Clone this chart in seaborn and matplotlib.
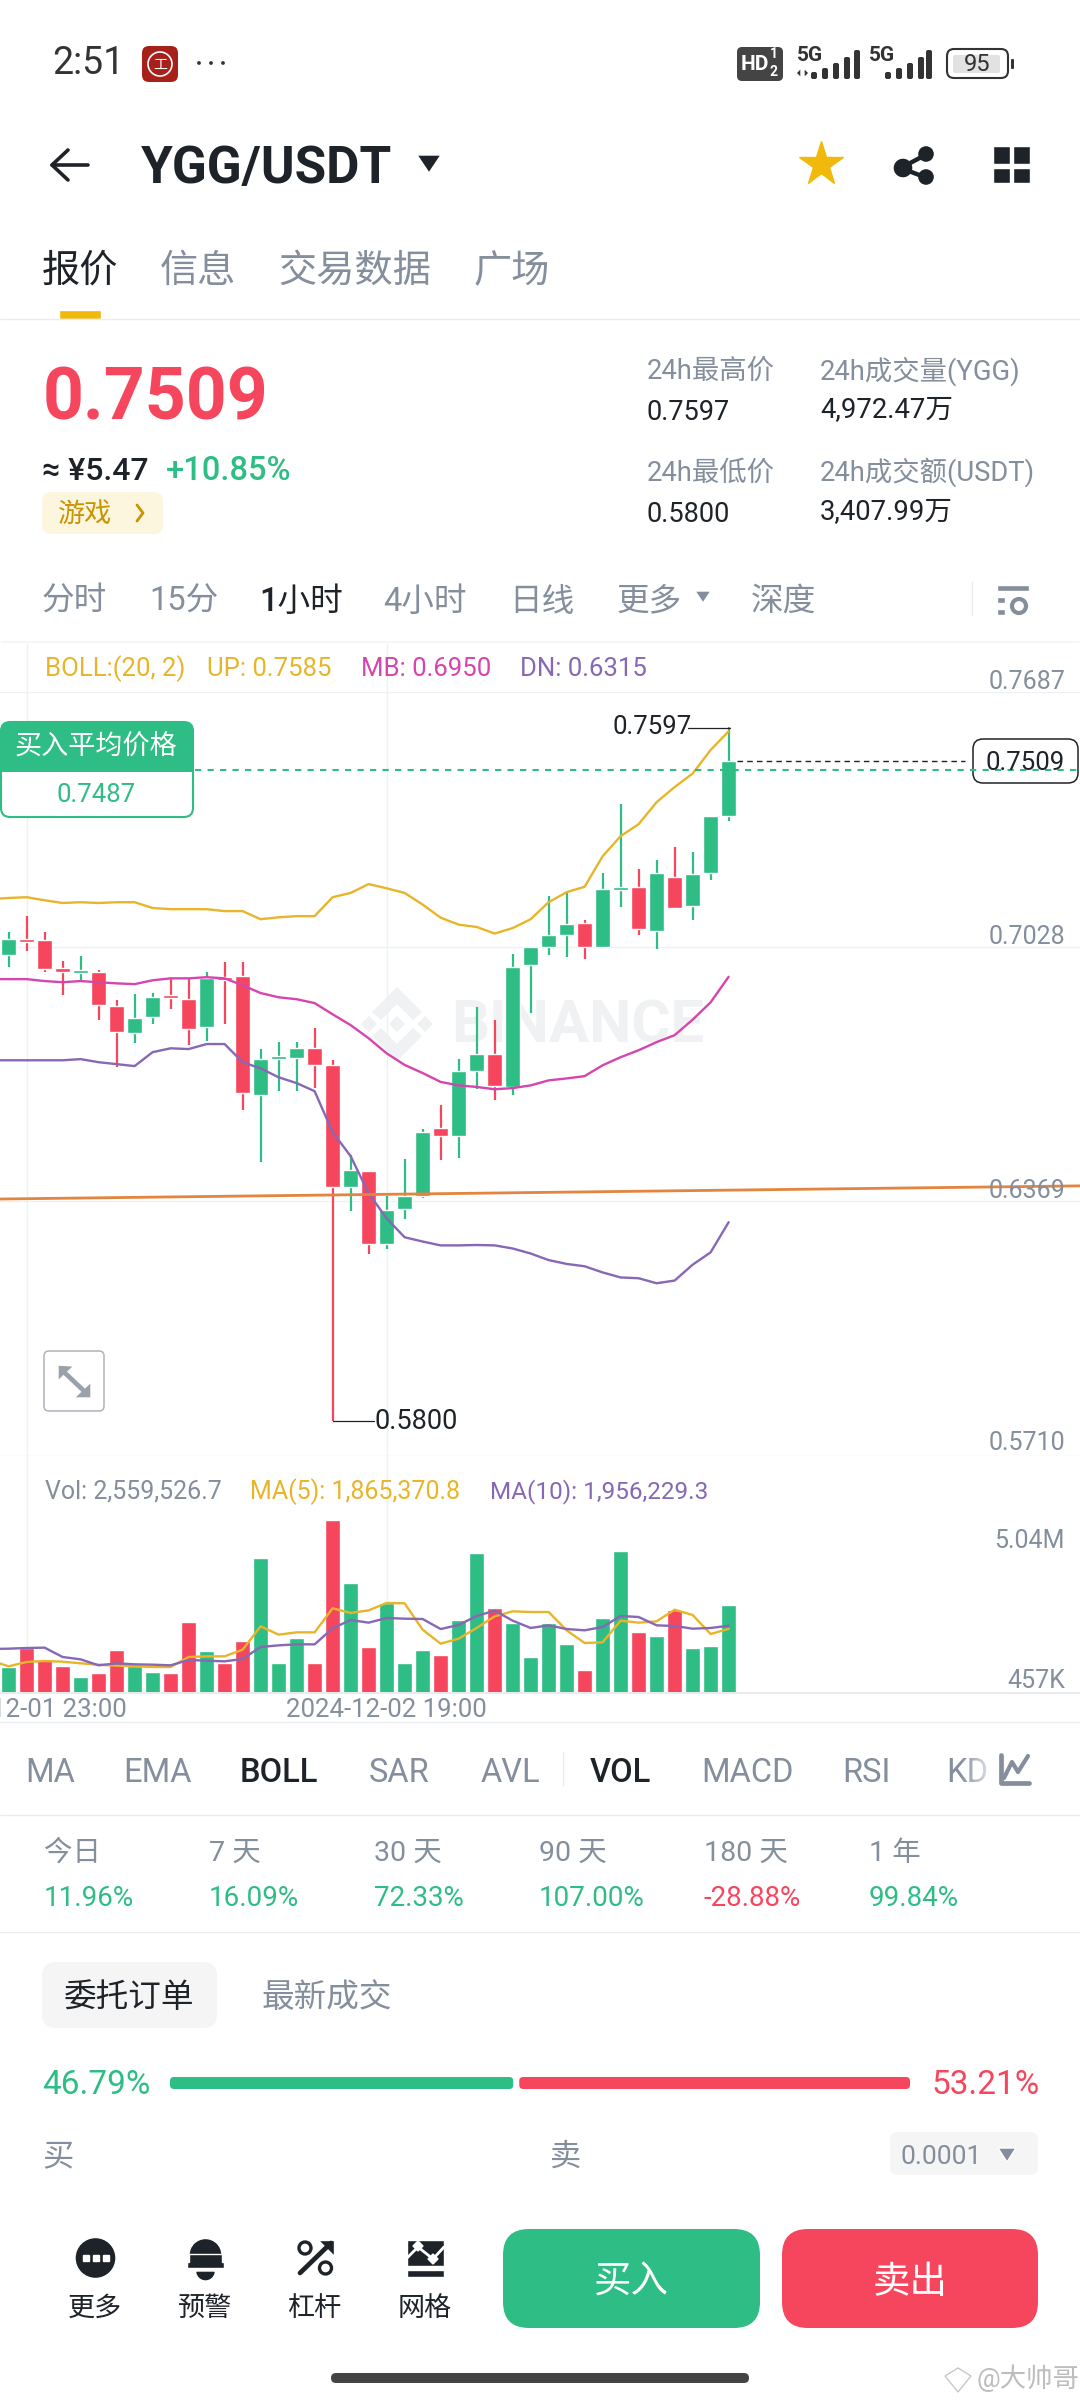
import numpy as np
import pandas as pd
import matplotlib
matplotlib.use("Agg")
import matplotlib.pyplot as plt
import seaborn as sns
from matplotlib.patches import FancyBboxPatch, Polygon, Circle, Rectangle, Wedge

# --- CANDLE DATA (1h, YGG/USDT) ---
opens = [.7006, .7047, .7045, .6972, .6959, .6962, .6874, .6804, .6845, .6902, .6892, .6820, .6949, .6951,
         .6644, .6737, .6739, .6765, .6721, .6405, .6447, .6258, .6348, .6382, .6558, .6537, .6706, .6750,
         .6664, .6981, .7027, .7058, .7089, .7027, .7174, .7183, .7068, .7208, .7132, .7218, .7366]
highs = [.7066, .7107, .7066, .6990, .7003, .6967, .6890, .6905, .6908, .6946, .6946, .6962, .6988, .6988,
         .6763, .6781, .6781, .6817, .6734, .6488, .6447, .6384, .6478, .6555, .6618, .6737, .6871, .6838,
         .7009, .7028, .7159, .7167, .7097, .7218, .7396, .7229, .7252, .7286, .7273, .7367, .7597]
lows = [.6975, .7016, .6962, .6902, .6936, .6838, .6716, .6778, .6827, .6866, .6773, .6783, .6827, .6605,
        .6470, .6654, .6654, .6662, .5800, .6343, .6232, .6245, .6322, .6377, .6475, .6480, .6659, .6631,
        .6644, .6856, .7006, .7001, .6996, .7024, .7130, .7058, .7022, .7125, .7098, .7201, .7353]
closes = [.7047, .7040, .6970, .6962, .6967, .6877, .6807, .6843, .6897, .6895, .6814, .6946, .6943, .6649,
          .6737, .6745, .6765, .6721, .6405, .6449, .6258, .6346, .6382, .6548, .6537, .6706, .6750, .6667,
          .6975, .7027, .7058, .7086, .7027, .7177, .7182, .7073, .7218, .7128, .7216, .7366, .7509]

# bollinger lines start one candle earlier, off the left edge
boll_up = [.7151, .7154, .7156, .7148, .7141, .7143, .7141, .7143, .7143, .7128, .7125, .7125, .7125, .7120,
           .7120, .7099, .7104, .7107, .7107, .7156, .7167, .7190, .7179, .7167, .7137, .7103, .7085, .7079,
           .7062, .7076, .7099, .7143, .7169, .7183, .7262, .7314, .7345, .7402, .7441, .7476, .7537, .7585]
boll_mb = [.6944, .6944, .6944, .6939, .6936, .6939, .6936, .6933, .6931, .6941, .6946, .6946, .6949, .6946,
           .6928, .6908, .6897, .6892, .6882, .6853, .6825, .6791, .6752, .6722, .6701, .6678, .6669, .6665,
           .6659, .6662, .6669, .6682, .6687, .6693, .6721, .6742, .6760, .6781, .6799, .6839, .6884, .6950]
boll_dn = [.6734, .6734, .6734, .6734, .6734, .6737, .6729, .6724, .6719, .6755, .6765, .6763, .6776, .6776,
           .6729, .6713, .6690, .6675, .6654, .6548, .6486, .6390, .6325, .6276, .6265, .6255, .6255, .6256,
           .6255, .6247, .6234, .6217, .6207, .6201, .6185, .6172, .6170, .6157, .6164, .6205, .6237, .6315]

# orange trend line, ends at the pane edges
trend_x = [-0.48, 59.52]
trend_y = [.6375, .6409]

# --- VOLUME DATA (millions) ---
volume = [.756, 1.309, .969, .785, .465, .590, 1.251, .777, .611, .573, 2.056, 1.230, .873, 1.521,
          3.926, .873, 1.591, .864, 5.040, 3.199, 1.329, 2.618, .873, 1.242, 1.105, 2.132, 4.072, 2.481,
          2.036, 1.038, 2.045, 1.434, .669, 2.190, 4.130, 1.774, 1.649, 2.423, 1.300, 1.358, 2.560]
vol_ma5 = [.950, .776, .902, .931, .911, .863, .824, .795, .776, .756, .756, 1.047, 1.066, 1.066,
           1.260, 1.939, 1.697, 1.764, 1.764, 2.463, 2.327, 2.404, 2.618, 2.608, 1.842, 1.435, 1.580, 1.891,
           2.230, 2.375, 2.356, 2.356, 1.823, 1.454, 1.474, 2.104, 2.046, 2.084, 2.424, 2.269, 1.716, 1.865]
vol_ma10 = [1.280, 1.289, 1.309, 1.319, 1.047, .979, .805, .863, .834, .824, .805, .960, .940, .921,
            .989, 1.338, 1.386, 1.415, 1.415, 1.881, 2.123, 2.046, 2.181, 2.162, 2.152, 1.861, 1.978, 2.240,
            2.395, 2.104, 1.891, 1.968, 1.861, 1.823, 1.920, 2.240, 2.210, 1.968, 1.949, 1.871, 1.891, 1.956]

price_ticks = [.7687, .7028, .6369, .5710]
tick_candles = [1, 21]
tick_dates = ["2024-12-01 23:00", "2024-12-02 19:00"]

# --- SCREEN TEXT ---
tabs = ["报价", "信息", "交易数据", "广场"]
tab_x = [42, 160, 278, 474]
frames = ["分时", "15分", "1小时", "4小时", "日线", "更多", "深度"]
frame_x = [42, 149, 259, 383, 509, 616, 751]
indicators = ["MA", "EMA", "BOLL", "SAR", "AVL", "VOL", "MACD", "RSI", "KD"]
indicator_x = [25, 123, 240, 369, 481, 590, 701, 842, 946]
periods = ["今日", "7 天", "30 天", "90 天", "180 天", "1 年"]
period_changes = ["11.96%", "16.09%", "72.33%", "107.00%", "-28.88%", "99.84%"]
period_x = [44, 209, 374, 539, 704, 869]
bid_share = 46.79
ask_share = 53.21
tools = ["更多", "预警", "杠杆", "网格"]
tool_x = [95, 205, 315, 425]

GREEN = "#2EBD85"
RED = "#F6465D"
YELLOW = "#E8B52A"
MAGENTA = "#D645AE"
PURPLE = "#8668B4"
ORANGE = "#E3843F"
GRAY = "#848E9C"
DARK = "#1E2329"
GRID = "#EEF0F3"

sns.set_theme(style="white")
plt.rcParams["font.family"] = ["Roboto", "Noto Sans CJK SC", "DejaVu Sans"]

df = pd.DataFrame({"open": opens, "high": highs, "low": lows, "close": closes, "volume": volume})
df["idx"] = np.arange(len(df))
df["up"] = df["close"] >= df["open"]
df["dir"] = np.where(df["up"], "up", "down")
df["color"] = np.where(df["up"], GREEN, RED)
line_idx = np.arange(-1, len(df))

fig = plt.figure(figsize=(10.8, 24), dpi=100, facecolor="white")

def full_ax(z):
    a = fig.add_axes([0, 0, 1, 1], zorder=z)
    a.set_xlim(0, 1080)
    a.set_ylim(2400, 0)
    a.axis("off")
    return a

def pane(top, bottom):
    a = fig.add_axes([0, 1 - bottom / 2400, 1, (bottom - top) / 2400], zorder=1)
    a.patch.set_alpha(0)
    return a

back = full_ax(0)
ui = full_ax(2)
ax = pane(692, 1456)
ax_vol = pane(1456, 1693)

def txt(a, x, y, s, size, color=DARK, ha="left", weight="normal", **kw):
    # va center sits a bit high for these fonts
    a.text(x, y + 4.5, s, fontsize=size, color=color, ha=ha, va="center", fontweight=weight, **kw)

def box(a, x0, y0, x1, y1, r, fc, ec="none", lw=0, **kw):
    a.add_patch(FancyBboxPatch((x0 + r, y0 + r), x1 - x0 - 2 * r, y1 - y0 - 2 * r,
                               boxstyle=f"round,pad={r},rounding_size={r}", fc=fc, ec=ec, lw=lw, **kw))

# --- WATERMARK UNDER CHART ---
wm = "#EFF1F2"
txt(back, 451, 1022, "BINANCE", 43, wm, weight="bold")
for cx, cy, r in [(397, 1024, 9), (369, 1024, 9), (425, 1024, 9)]:
    back.add_patch(Polygon([(cx - r, cy), (cx, cy - r), (cx + r, cy), (cx, cy + r)], fc=wm))
back.add_patch(Polygon([(397, 986), (423, 1012), (413, 1021), (397, 1005), (381, 1021), (371, 1012)], fc=wm))
back.add_patch(Polygon([(397, 1062), (423, 1036), (413, 1027), (397, 1043), (381, 1027), (371, 1036)], fc=wm))
# grid lines go on up through the legend strip
back.plot([26.6, 26.6], [644, 692], color=GRID, lw=1)
back.plot([386.6, 386.6], [644, 692], color=GRID, lw=1)

# --- PRICE PANE ---
ax.vlines(df["idx"], df["low"], df["high"], colors=df["color"], lw=1.6, zorder=2)
ax.bar(df["idx"], (df["close"] - df["open"]).abs(), bottom=df[["open", "close"]].min(axis=1),
       width=0.84, color=df["color"], zorder=3)
sns.lineplot(x=line_idx, y=boll_up, color=YELLOW, linewidth=1.7, ax=ax, zorder=4)
sns.lineplot(x=line_idx, y=boll_mb, color=MAGENTA, linewidth=1.7, ax=ax, zorder=4)
sns.lineplot(x=line_idx, y=boll_dn, color=PURPLE, linewidth=1.7, ax=ax, zorder=4)
sns.lineplot(x=trend_x, y=trend_y, color=ORANGE, linewidth=2, ax=ax, zorder=5)
ax.set_xlim(-0.478, 59.52)
ax.set_ylim(.5710, .7687)
ax.set_yticks(price_ticks)
ax.set_xticks(tick_candles)
ax.grid(True, color=GRID, lw=1)
ax.tick_params(left=False, bottom=False, labelleft=False, labelbottom=False)
sns.despine(ax=ax, left=True, bottom=True)
ax.set_axisbelow(True)

# --- VOLUME PANE ---
sns.barplot(data=df, x="idx", y="volume", hue="dir", palette={"up": GREEN, "down": RED}, native_scale=True,
            dodge=False, width=0.85, saturation=1, legend=False, errorbar=None, ax=ax_vol, zorder=3)
sns.lineplot(x=line_idx, y=vol_ma5, color=YELLOW, linewidth=1.7, ax=ax_vol, zorder=4)
sns.lineplot(x=line_idx, y=vol_ma10, color=PURPLE, linewidth=1.7, ax=ax_vol, zorder=5)
ax_vol.set_xlim(-0.478, 59.52)
ax_vol.set_ylim(0, 6.893)
ax_vol.set_yticks([])
ax_vol.set_xticks(tick_candles)
ax_vol.grid(True, axis="x", color=GRID, lw=1)
ax_vol.set_axisbelow(True)
ax_vol.set_xlabel("")
ax_vol.set_ylabel("")
ax_vol.tick_params(left=False, bottom=False, labelleft=False, labelbottom=False)
sns.despine(ax=ax_vol, left=True, bottom=True)

# date labels, the first one runs off the left edge as on the phone
for i, label in zip(tick_candles, tick_dates):
    ax_vol.annotate(label, xy=(i, 0), xytext=(0, -17 * 0.72), textcoords="offset points", ha="center",
                    va="center", fontsize=18.5, color=GRAY, annotation_clip=False)

# --- CHART OVERLAYS ---
for y, label in zip([677.5, 932.5, 1187, 1438], price_ticks):
    txt(ui, 1065, y, f"{label:.4f}", 18, GRAY, ha="right")
txt(ui, 1065, 1536, "5.04M", 18, GRAY, ha="right")
txt(ui, 1065, 1676, "457K", 18, GRAY, ha="right")

ui.add_patch(Rectangle((0, 640), 1080, 3, fc="#F5F5F5"))
ui.plot([0, 1080], [1693, 1693], color="#E9EBEE", lw=1.4)
txt(ui, 45, 664, "BOLL:(20, 2)", 18.5, YELLOW)
txt(ui, 207, 664, "UP: 0.7585", 18.5, YELLOW)
txt(ui, 361, 664, "MB: 0.6950", 18.5, MAGENTA)
txt(ui, 520, 664, "DN: 0.6315", 18.5, PURPLE)
txt(ui, 45, 1487, "Vol: 2,559,526.7", 18, GRAY)
txt(ui, 250, 1487, "MA(5): 1,865,370.8", 18, YELLOW)
txt(ui, 490, 1487, "MA(10): 1,956,229.3", 17.5, PURPLE)

# average buy price tag and dashed lines
ui.plot([195, 1080], [769.5, 769.5], color=GREEN, lw=1.5, dashes=(3, 3))
ui.plot([737, 965], [761, 761], color=DARK, lw=1, dashes=(4, 3))
box(ui, 1, 722, 193, 817, 9, "white", GREEN, 1.5)
box(ui, 1, 722, 193, 785, 9, GREEN)
ui.add_patch(Rectangle((2, 771), 190, 20, fc="white"))
ui.plot([1, 193], [771, 771], color=GREEN, lw=1.4)
ui.plot([192.5, 192.5], [771, 800], color=GREEN, lw=1.5)
ui.plot([1, 1], [771, 800], color=GREEN, lw=1.5)
txt(ui, 96, 743, "买入平均价格", 19.5, "white", ha="center")
txt(ui, 96, 791, "0.7487", 18.5, GREEN, ha="center")
box(ui, 973, 739, 1078, 783, 10, "none", DARK, 1.1)
txt(ui, 1065, 759, "0.7509", 18.5, DARK, ha="right")
txt(ui, 612, 723, "0.7597", 18.5, DARK)
ui.plot([688, 730], [727.5, 727.5], color=DARK, lw=0.9)
txt(ui, 375, 1417, "0.5800", 19.5, DARK)
ui.plot([333, 374], [1421, 1421], color=DARK, lw=0.9)

# expand button
box(ui, 44, 1351, 104, 1411, 5, "white", "#AEB4BC", 1.1)
ui.add_patch(Polygon([(58, 1365), (74, 1366), (58, 1381)], fc="#9AA1AB"))
ui.add_patch(Polygon([(91, 1398), (74, 1398), (91, 1382)], fc="#9AA1AB"))
ui.plot([65, 83], [1373, 1390], color="#9AA1AB", lw=3.4)

# --- STATUS BAR ---
txt(ui, 52, 59, "2:51", 27, "#333333")
box(ui, 142, 46, 178, 82, 7, "#A8201A")
ui.add_patch(Circle((160, 64), 12, fc="none", ec="white", lw=1.2))
txt(ui, 160, 60, "工", 10, "white", ha="center")
for x in [199, 211, 223]:
    ui.add_patch(Circle((x, 63), 2.6, fc="#333333"))
box(ui, 737, 47, 783, 81, 5, "#444444")
txt(ui, 741, 60, "HD", 15, "white", weight="bold")
txt(ui, 774, 49, "1", 10, "white", ha="center", weight="bold")
txt(ui, 774, 68, "2", 10, "white", ha="center", weight="bold")
txt(ui, 810.5, 51, "5G", 15, "#333333", ha="center", weight="bold")
txt(ui, 881.5, 51, "5G", 15, "#333333", ha="center", weight="bold")
ui.add_patch(Polygon([(796, 73), (801, 68), (801, 78)], fc="#333333"))
ui.add_patch(Polygon([(809, 73), (804, 68), (804, 78)], fc="#333333"))
bar_tops = [72, 68, 63, 57, 50]
for centers in ([814, 825, 836, 847, 857], [888, 899, 910, 921, 929]):
    for cx, top in zip(centers, bar_tops):
        box(ui, cx - 3, top, cx + 3, 79, 2, "#333333")
box(ui, 947, 49, 1008, 78, 7, "white", "#333333", 1.5)
box(ui, 953, 55, 1000, 73, 2, "#E2E2E2")
txt(ui, 977, 60, "95", 17, "#333333", ha="center")
box(ui, 1011, 59, 1014, 69, 1, "#333333")

# --- NAV BAR ---
ui.plot([52, 88], [165, 165], color=DARK, lw=2.6)
ui.plot([68, 52, 68], [150, 165, 180], color=DARK, lw=2.6)
txt(ui, 141, 165, "YGG/USDT", 37, DARK, weight="bold")
ui.add_patch(Polygon([(417, 155), (441, 155), (429, 173)], fc=DARK))
ui.plot(821, 164, marker="*", ms=33, color="#F0B90B", mec="#F0B90B")
ui.plot([927, 901, 927], [154, 168, 178], color=DARK, lw=3.2)
for cx, cy, r in [(926, 154, 8.5), (903, 168, 10), (926, 177, 8.5)]:
    ui.add_patch(Circle((cx, cy), r, fc=DARK))
for x0, y0, x1, y1 in [(993, 146, 1010, 164), (1013, 146, 1030, 164), (993, 168, 1010, 183), (1013, 168, 1030, 183)]:
    ui.add_patch(Rectangle((x0, y0), x1 - x0, y1 - y0, fc=DARK))

# tabs
for i, (s, x) in enumerate(zip(tabs, tab_x)):
    txt(ui, x, 267, s, 27.5, DARK if i == 0 else GRAY, weight="medium" if i == 0 else "normal")
ui.add_patch(Rectangle((59, 310), 42, 9, fc="#F0B90B"))
ui.plot([0, 1080], [319, 319], color="#EAECEF", lw=1)

# --- PRICE HEADER ---
txt(ui, 43, 396, "0.7509", 51.5, RED, weight="bold")
txt(ui, 42, 467, "≈ ¥5.47", 23, DARK, weight="medium")
txt(ui, 166, 467, "+10.85%", 23.5, GREEN, weight="medium")
box(ui, 42, 492, 163, 534, 9, "#FDF6DF")
txt(ui, 58, 510, "游戏", 19.5, "#C99400")
ui.plot([137, 143, 137], [505, 513, 521], color="#C99400", lw=2)
for x, y, s, c, size in [(647, 367, "24h最高价", GRAY, 19.7), (820, 367, "24h成交量(YGG)", GRAY, 19.7),
                         (647, 469, "24h最低价", GRAY, 19.7), (820, 468, "24h成交额(USDT)", GRAY, 19.7),
                         (647, 408, "0.7597", DARK, 19.5), (820, 406, "4,972.47万", DARK, 19.8),
                         (647, 510, "0.5800", DARK, 19.5), (820, 508, "3,407.99万", DARK, 19.8)]:
    txt(ui, x, y, s, size, c)

# --- TIMEFRAME ROW ---
for s, x in zip(frames, frame_x):
    txt(ui, x, 597, s, 23.5, DARK if s == "1小时" else GRAY, weight="medium" if s == "1小时" else "normal")
ui.add_patch(Polygon([(695, 591), (711, 591), (703, 603)], fc=GRAY))
ui.plot([972, 972], [582, 615], color="#EAECEF", lw=1)
ui.add_patch(Rectangle((997, 585), 32, 6, fc=GRAY))
ui.add_patch(Rectangle((997, 597), 8, 6, fc=GRAY))
ui.add_patch(Rectangle((997, 609), 8, 6, fc=GRAY))
ui.add_patch(Circle((1019, 606), 7, fc="white", ec=GRAY, lw=3))

# --- INDICATOR ROW ---
ui.plot([0, 1080], [1722, 1722], color="#EAECEF", lw=1)
for s, x in zip(indicators, indicator_x):
    active = s in ("BOLL", "VOL")
    txt(ui, x, 1768, s, 23.5, DARK if active else GRAY, weight="medium" if active else "normal")
ui.plot([563, 563], [1752, 1785], color="#EAECEF", lw=1)
fade = np.zeros((1, 40, 4))
fade[..., :3] = 1
fade[..., 3] = np.linspace(0, 1, 40)
ui.imshow(fade, extent=(960, 1000, 1790, 1750), aspect="auto", zorder=3)
ui.set_xlim(0, 1080)
ui.set_ylim(2400, 0)
ui.plot([1001, 1001, 1029], [1755, 1783, 1783], color=GRAY, lw=3.4, zorder=4)
ui.plot([1004, 1012, 1018, 1028], [1778, 1762, 1772, 1756], color=GRAY, lw=3, zorder=4)
ui.plot([0, 1080], [1814.5, 1814.5], color="#EAECEF", lw=1)

# --- PERIOD CHANGES ---
for s, v, x in zip(periods, period_changes, period_x):
    txt(ui, x, 1849, s, 20.5, GRAY)
    txt(ui, x, 1893.5, v, 20, RED if v.startswith("-") else GREEN)
ui.plot([0, 1080], [1931.5, 1931.5], color="#EAECEF", lw=1)

# --- ORDER BOOK ---
box(ui, 42, 1962, 217, 2028, 14, "#F5F5F5")
txt(ui, 129.5, 1994, "委托订单", 23.5, DARK, ha="center")
txt(ui, 261, 1994, "最新成交", 23.5, GRAY)
txt(ui, 42, 2081, f"{bid_share:.2f}%", 24, GREEN)
txt(ui, 932, 2081, f"{ask_share:.2f}%", 24, RED)
bar_left, bar_right = 170, 910
split = bar_left + (bar_right - bar_left) * bid_share / (bid_share + ask_share)
box(ui, bar_left, 2077, split - 3, 2089, 4, GREEN)
box(ui, split + 3, 2077, bar_right, 2089, 4, RED)
txt(ui, 42, 2153, "买", 22.5, GRAY)
txt(ui, 550, 2153, "卖", 22.5, GRAY)
box(ui, 890, 2132, 1038, 2175, 8, "#F5F5F5")
txt(ui, 901, 2152, "0.0001", 19, GRAY)
ui.add_patch(Polygon([(998, 2148), (1016, 2148), (1007, 2162)], fc=GRAY))

# --- BOTTOM BAR ---
for s, x in zip(tools, tool_x):
    txt(ui, x, 2304, s, 19.5, DARK, ha="center")
ui.add_patch(Circle((95.5, 2258), 20.5, fc=DARK))
for x in [86, 96, 106]:
    ui.add_patch(Rectangle((x - 3, 2255), 6, 6, fc="white"))
ui.add_patch(Wedge((205.5, 2255), 16.5, 180, 360, fc=DARK))
ui.add_patch(Polygon([(189, 2254), (222, 2254), (222, 2262), (224, 2262), (224, 2268), (187, 2268), (187, 2262), (189, 2262)], fc=DARK))
ui.add_patch(Wedge((205.5, 2271), 10, 0, 180, fc=DARK))
ui.plot([300, 331], [2273, 2243], color=DARK, lw=3.4)
ui.add_patch(Polygon([(318, 2240), (334, 2240), (334, 2256)], fc=DARK))
for cx, cy in [(305, 2248), (325.5, 2268)]:
    ui.add_patch(Circle((cx, cy), 6, fc="white", ec=DARK, lw=2.4))
ui.add_patch(Rectangle((407, 2240), 37, 26, fc=DARK))
ui.add_patch(Rectangle((407, 2270), 37, 7, fc=DARK))
ui.plot([407, 418, 433, 444], [2258, 2247, 2259, 2247], color="white", lw=2)
for cx, cy in [(418, 2246), (433, 2259)]:
    ui.add_patch(Polygon([(cx - 5, cy), (cx, cy - 5), (cx + 5, cy), (cx, cy + 5)], fc="white"))

box(ui, 503, 2229, 760, 2328, 26, GREEN)
box(ui, 782, 2229, 1038, 2328, 26, RED)
txt(ui, 631, 2278, "买入", 27, "white", ha="center")
txt(ui, 910, 2278, "卖出", 27, "white", ha="center")
box(ui, 331, 2373, 749, 2383, 5, "#444444")
txt(ui, 976, 2374, "@大帅哥", 19, "#BDBDBD")
ui.add_patch(Polygon([(945, 2376), (958, 2368), (971, 2376), (958, 2392)], fc="none", ec="#C8C8C8", lw=1))

fig.savefig("out.png", dpi=100, facecolor="white")
